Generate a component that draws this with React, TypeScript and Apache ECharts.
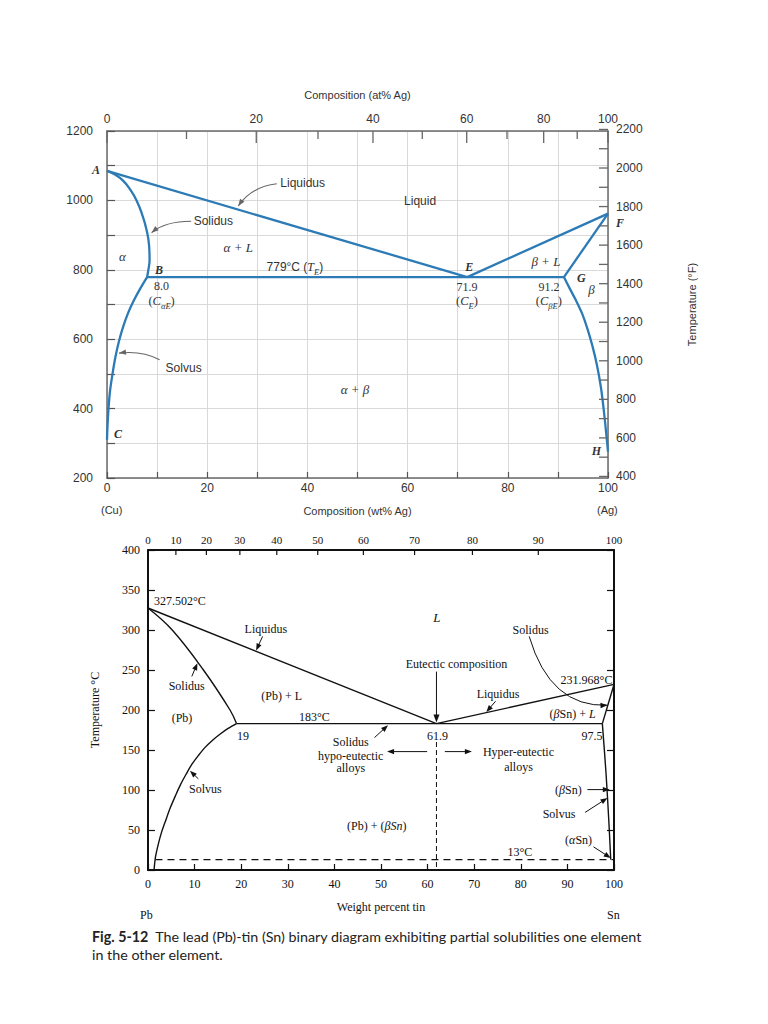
import React, { useEffect, useRef } from 'react';
import * as echarts from 'echarts';

// ================= Cu–Ag diagram (top): x = wt% Ag, y = °C =================
const cuAgLiquidusLeft = [[0, 1085], [71.9, 779]];
const cuAgLiquidusRight = [[71.9, 779], [100, 962]];
const cuAgSolidusLeft = [[0, 1085], [1.5, 1075], [3.2, 1057], [4.7, 1030], [5.9, 1000], [7.0, 960], [7.9, 915], [8.4, 870], [8.5, 830], [8.2, 795], [8.0, 779]];
const cuAgSolidusRight = [[91.2, 779], [100, 962]];
const cuAgEutectic = [[8.0, 779], [91.2, 779]];
const cuAgSolvusLeft = [[8.0, 779], [6.6, 745], [5.3, 710], [4.2, 675], [3.2, 635], [2.4, 595], [1.7, 550], [1.1, 500], [0.6, 450], [0.3, 400], [0.1, 350], [0, 310]];
const cuAgSolvusRight = [[91.2, 779], [92.4, 745], [93.6, 712], [94.8, 675], [95.9, 630], [96.9, 580], [97.8, 525], [98.6, 460], [99.2, 390], [99.7, 320], [100, 276]];

// secondary scales of the top diagram
const cuAgAtTicks = [0, 10, 20, 30, 40, 50, 60, 70, 80, 90, 100];
const cuAgAtLabels = ['0', '', '20', '', '40', '', '60', '', '80', '', '100'];
const fahrenheitTicks = [400, 500, 600, 700, 800, 900, 1000, 1100, 1200, 1300, 1400, 1500, 1600, 1700, 1800, 1900, 2000, 2100, 2200];
const fahrenheitLabels = ['400', '', '600', '', '800', '', '1000', '', '1200', '', '1400', '', '1600', '', '1800', '', '2000', '', '2200'];

// ================= Pb–Sn diagram (bottom): x = wt% Sn, y = °C =================
const pbSnLiquidusLeft = [[0, 327.502], [61.9, 183]];
const pbSnLiquidusRight = [[61.9, 183], [100, 231.968]];
const pbSnSolidusLeft = [[0, 327.502], [5.2, 300], [11.9, 250], [17.6, 200], [19, 183]];
const pbSnSolidusRight = [[97.5, 183], [100, 231.968]];
const pbSnEutectic = [[19, 183], [97.5, 183]];
const pbSnSolvusLeft = [[19, 183], [17.2, 177], [15.5, 170], [13.8, 162], [12.2, 153], [10.8, 143], [9.4, 132], [8.2, 120], [7.0, 107], [5.9, 93], [4.8, 78], [3.8, 62], [2.9, 47], [2.2, 32], [1.6, 16], [1.3, 0]];
const pbSnSolvusRight = [[97.5, 183], [98.3, 120], [98.9, 60], [99.3, 13]];
const pbSnAllotropic = [[1.6, 13], [100, 13]];
const pbSnEutecticComposition = [[61.9, 160], [61.9, 0]];

const pbSnAtTicks = [0, 10, 20, 30, 40, 50, 60, 70, 80, 90, 100];
const pbSnAtLabels = ['0', '10', '20', '30', '40', '50', '60', '70', '80', '90', '100'];

// atomic weights for at% -> wt% conversion
const M_CU = 63.546, M_AG = 107.868, M_PB = 207.2, M_SN = 118.71;
const atToWt = (at: number, mSolute: number, mSolvent: number) =>
  (100 * at * mSolute) / (at * mSolute + (100 - at) * mSolvent);
const fToC = (f: number) => (f - 32) / 1.8;

// ================= styles =================
const BLUE = '#2d7bb6';
const SANS = '"Liberation Sans", Arial, sans-serif';
const SERIF = '"Liberation Serif", "Times New Roman", serif';
const CAPTION = 'Lato, sans-serif';
const LETTER = `italic bold 12px ${SERIF}`;
const GREEK = `italic 13px ${SERIF}`;
const TOPTXT = `12px ${SANS}`;
const TOPNUM = `12px ${SERIF}`;
const BOT = `12px ${SERIF}`;

const subRich = (family: string, size: number) => ({
  n: { fontFamily: family, fontSize: size, lineHeight: 18, verticalAlign: 'middle' as const, fill: '#333' },
  i: { fontFamily: SERIF, fontStyle: 'italic' as const, fontSize: size, lineHeight: 18, verticalAlign: 'middle' as const, fill: '#333' },
  s: { fontFamily: SERIF, fontStyle: 'italic' as const, fontSize: 8.5, lineHeight: 18, verticalAlign: 'bottom' as const, fill: '#333' },
});

type TextAnn = { t: string; at: number[]; font?: string; align?: string; color?: string; rich?: any };
type ArrowAnn = { from: number[]; to: number[]; ctrl?: number[]; color?: string; width?: number; head?: number };

const cuAgTexts: TextAnn[] = [
  { t: 'A', at: [-2.2, 1089], font: LETTER },
  { t: 'B', at: [10.4, 800], font: LETTER },
  { t: 'C', at: [2.2, 327], font: LETTER },
  { t: 'E', at: [72.3, 808], font: LETTER },
  { t: 'F', at: [102.4, 935], font: LETTER },
  { t: 'G', at: [94.7, 777], font: LETTER },
  { t: 'H', at: [97.7, 278], font: LETTER },
  { t: 'α', at: [3.1, 839], font: GREEK },
  { t: 'α + L', at: [26.2, 863], font: GREEK },
  { t: 'β + L', at: [87.6, 824], font: GREEK },
  { t: 'β', at: [96.7, 743], font: GREEK },
  { t: 'α + β', at: [49.5, 454], font: GREEK },
  { t: 'Liquid', at: [62.5, 997], font: TOPTXT },
  { t: 'Liquidus', at: [34.6, 1050], font: TOPTXT, align: 'left' },
  { t: 'Solidus', at: [17.3, 940], font: TOPTXT, align: 'left' },
  { t: 'Solvus', at: [11.7, 516], font: TOPTXT, align: 'left' },
  { t: '{n|779°C (}{i|T}{s|E}{n|)}', at: [37.5, 808], rich: subRich(SANS, 12) },
  { t: '8.0', at: [10.9, 752], font: TOPNUM },
  { t: '{n|(}{i|C}{s|αE}{n|)}', at: [10.9, 709], rich: subRich(SERIF, 12.5) },
  { t: '71.9', at: [71.85, 750], font: TOPNUM },
  { t: '{n|(}{i|C}{s|E}{n|)}', at: [71.85, 709], rich: subRich(SERIF, 12.5) },
  { t: '91.2', at: [88.2, 750], font: TOPNUM },
  { t: '{n|(}{i|C}{s|βE}{n|)}', at: [88.2, 709], rich: subRich(SERIF, 12.5) },
];
const cuAgArrows: ArrowAnn[] = [
  { from: [33.9, 1048], ctrl: [28.9, 1040], to: [26.2, 984] },
  { from: [16.8, 940], ctrl: [11.6, 940], to: [8.9, 907] },
  { from: [10.5, 541], ctrl: [6.9, 568], to: [2.4, 560] },
];

const pbSnTexts: TextAnn[] = [
  { t: '327.502°C', at: [1.3, 336], align: 'left' },
  { t: 'L', at: [62, 316], font: `italic 13px ${SERIF}` },
  { t: 'Liquidus', at: [25.3, 301] },
  { t: 'Solidus', at: [82.1, 300] },
  { t: 'Eutectic composition', at: [66.2, 257] },
  { t: 'Solidus', at: [8.3, 230] },
  { t: '(Pb) + L', at: [28.7, 217] },
  { t: '(Pb)', at: [7.3, 190] },
  { t: '183°C', at: [35.7, 191] },
  { t: '19', at: [20.4, 168] },
  { t: '61.9', at: [62.1, 168] },
  { t: '97.5', at: [95.3, 168] },
  { t: 'Liquidus', at: [75.1, 220] },
  { t: '{n|(}{i|β}{n|Sn) + }{i|L}', at: [91.1, 195], rich: null },
  { t: '231.968°C', at: [94.1, 237] },
  { t: 'Solidus', at: [43.5, 160] },
  { t: 'hypo-eutectic', at: [43.5, 143] },
  { t: 'alloys', at: [43.5, 127] },
  { t: 'Hyper-eutectic', at: [79.5, 147] },
  { t: 'alloys', at: [79.5, 129] },
  { t: 'Solvus', at: [12.3, 101] },
  { t: '{n|(Pb) + (}{i|βSn}{n|)}', at: [49.1, 55], rich: null },
  { t: '{n|(}{i|β}{n|Sn)}', at: [90.2, 100.5], rich: null },
  { t: 'Solvus', at: [88.2, 70] },
  { t: '{n|(}{i|α}{n|Sn)}', at: [92.4, 37], rich: null },
  { t: '13°C', at: [79.8, 23] },
];
const pbSnArrows: ArrowAnn[] = [
  { from: [24.6, 292], to: [23.2, 274.5] },
  { from: [9.4, 242], to: [10.6, 258.5] },
  { from: [61.9, 248], to: [61.9, 184.5], head: 8 },
  { from: [74.6, 211], to: [72.6, 197.5] },
  { from: [81.8, 292], ctrl: [86.3, 203], to: [98.6, 206] },
  { from: [48.6, 165.5], to: [51.5, 181] },
  { from: [59.9, 148], to: [51.3, 148] },
  { from: [63.7, 148], to: [69.5, 148] },
  { from: [10.8, 114], to: [9.0, 124] },
  { from: [94.3, 100.5], to: [99.1, 100.5] },
  { from: [93.8, 72], to: [98.6, 90] },
  { from: [95.6, 29], to: [99.3, 15] },
];

const botRich = {
  n: { fontFamily: SERIF, fontSize: 12, fill: '#111' },
  i: { fontFamily: SERIF, fontStyle: 'italic' as const, fontSize: 12, fill: '#111' },
};

// ================= helpers =================
function arrowHead(x1: number, y1: number, x2: number, y2: number, size: number, color: string) {
  const a = Math.atan2(y2 - y1, x2 - x1);
  const w = size * 0.38;
  const bx = x2 - size * Math.cos(a);
  const by = y2 - size * Math.sin(a);
  const px = -Math.sin(a) * w;
  const py = Math.cos(a) * w;
  return {
    type: 'polygon',
    shape: { points: [[x2, y2], [bx + px, by + py], [bx - px, by - py]] },
    style: { fill: color, stroke: 'none' },
  };
}

function annotationSeries(xAxisIndex: number, yAxisIndex: number, texts: TextAnn[], arrows: ArrowAnn[], def: { font: string; color: string; arrowColor: string; arrowWidth: number; head: number; rich?: any }) {
  const items: any[] = [
    ...texts.map((t) => ({ k: 't', ...t })),
    ...arrows.map((a) => ({ k: 'a', ...a })),
  ];
  return {
    type: 'custom',
    xAxisIndex,
    yAxisIndex,
    silent: true,
    clip: false,
    z: 5,
    data: items.map((it) => (it.k === 't' ? it.at : it.to)),
    renderItem: (params: any, api: any) => {
      const it = items[params.dataIndex];
      if (it.k === 't') {
        const p = api.coord(it.at);
        const rich = it.rich === null ? def.rich : it.rich;
        const style: any = {
          text: it.t,
          fill: it.color || def.color,
          align: it.align || 'center',
          verticalAlign: 'middle',
        };
        if (rich) style.rich = rich;
        style.font = it.font || def.font;
        return { type: 'text', x: p[0], y: p[1], style };
      }
      const s = api.coord(it.from);
      const e = api.coord(it.to);
      const color = it.color || def.arrowColor;
      const lw = it.width || def.arrowWidth;
      const hs = it.head || def.head;
      const children: any[] = [];
      if (it.ctrl) {
        const c = api.coord(it.ctrl);
        children.push({
          type: 'bezierCurve',
          shape: { x1: s[0], y1: s[1], x2: e[0], y2: e[1], cpx1: c[0], cpy1: c[1] },
          style: { stroke: color, lineWidth: lw, fill: 'none' },
        });
        children.push(arrowHead(c[0], c[1], e[0], e[1], hs, color));
      } else {
        const a = Math.atan2(e[1] - s[1], e[0] - s[0]);
        children.push({
          type: 'line',
          shape: { x1: s[0], y1: s[1], x2: e[0] - Math.cos(a) * hs * 0.6, y2: e[1] - Math.sin(a) * hs * 0.6 },
          style: { stroke: color, lineWidth: lw },
        });
        children.push(arrowHead(s[0], s[1], e[0], e[1], hs, color));
      }
      return { type: 'group', children };
    },
  };
}

// ticks + labels of a secondary scale, drawn at converted positions
function scaleSeries(xAxisIndex: number, yAxisIndex: number, pts: number[][], labels: string[], side: 'top' | 'right', opt: { len: (i: number) => number; font: string; color: string; tickColor: string; gap: number; tickWidth: number }) {
  return {
    type: 'custom',
    xAxisIndex,
    yAxisIndex,
    silent: true,
    clip: false,
    z: 6,
    data: pts,
    renderItem: (params: any, api: any) => {
      const i = params.dataIndex;
      const p = api.coord(pts[i]);
      const L = opt.len(i);
      const children: any[] = [];
      if (side === 'top') {
        children.push({ type: 'line', shape: { x1: p[0], y1: p[1], x2: p[0], y2: p[1] + L }, style: { stroke: opt.tickColor, lineWidth: opt.tickWidth } });
        if (labels[i]) children.push({ type: 'text', x: p[0], y: p[1] - opt.gap, style: { text: labels[i], font: opt.font, fill: opt.color, align: 'center', verticalAlign: 'bottom' } });
      } else {
        children.push({ type: 'line', shape: { x1: p[0], y1: p[1], x2: p[0] - L, y2: p[1] }, style: { stroke: opt.tickColor, lineWidth: opt.tickWidth } });
        if (labels[i]) children.push({ type: 'text', x: p[0] + opt.gap, y: p[1], style: { text: labels[i], font: opt.font, fill: opt.color, align: 'left', verticalAlign: 'middle' } });
      }
      return { type: 'group', children };
    },
  };
}

const topLine = (data: number[][], smooth: number | boolean = false) => ({
  type: 'line',
  xAxisIndex: 0,
  yAxisIndex: 0,
  data,
  showSymbol: false,
  symbol: 'none',
  smooth,
  lineStyle: { color: BLUE, width: 2.3 },
  silent: true,
  z: 3,
});
const botLine = (data: number[][], smooth: number | boolean = false, dashed?: number[], width = 1.4) => ({
  type: 'line',
  xAxisIndex: 2,
  yAxisIndex: 2,
  data,
  showSymbol: false,
  symbol: 'none',
  smooth,
  lineStyle: { color: '#111', width, type: dashed || 'solid' },
  silent: true,
  z: 3,
});

export default function App() {
  const ref = useRef<HTMLDivElement>(null);
  useEffect(() => {
    if (!ref.current) return;
    const chart = echarts.init(ref.current, undefined, { renderer: 'svg' });
    const grayAxis = { show: true, onZero: false, lineStyle: { color: '#6a6a6a', width: 1.5 } };
    const blackAxis = { show: true, onZero: false, lineStyle: { color: '#111', width: 2 } };
    const topLabel = { color: '#333', fontFamily: SANS, fontSize: 12 };
    const botLabel = { color: '#111', fontFamily: SERIF, fontSize: 12 };

    const option: any = {
      animation: false,
      backgroundColor: '#ffffff',
      grid: [
        { left: 107, top: 131, width: 501, height: 347, containLabel: false },
        { left: 148, top: 550, width: 466, height: 320, containLabel: false },
      ],
      xAxis: [
        {
          gridIndex: 0, type: 'value', position: 'bottom', min: 0, max: 100, interval: 10,
          axisLine: grayAxis,
          axisTick: { show: true, inside: true, length: 6, lineStyle: { color: '#555', width: 1.2 } },
          axisLabel: { ...topLabel, margin: 4, formatter: (v: number) => (v % 20 === 0 ? String(v) : '') },
          splitLine: { show: true, lineStyle: { color: '#d9d9d9', width: 1 } },
          name: 'Composition (wt% Ag)', nameLocation: 'middle', nameGap: 27,
          nameTextStyle: { color: '#333', fontFamily: SANS, fontSize: 11 },
        },
        {
          gridIndex: 0, type: 'value', position: 'top', min: 0, max: 100,
          axisLine: grayAxis, axisTick: { show: false }, axisLabel: { show: false }, splitLine: { show: false },
          name: 'Composition (at% Ag)', nameLocation: 'middle', nameGap: 31,
          nameTextStyle: { color: '#333', fontFamily: SANS, fontSize: 11 },
        },
        {
          gridIndex: 1, type: 'value', position: 'bottom', min: 0, max: 100, interval: 10,
          axisLine: blackAxis,
          axisTick: { show: true, inside: true, length: 6, lineStyle: { color: '#111', width: 1.2 } },
          axisLabel: { ...botLabel, margin: 8 },
          splitLine: { show: false },
          name: 'Weight percent tin', nameLocation: 'middle', nameGap: 31,
          nameTextStyle: { color: '#111', fontFamily: SERIF, fontSize: 12 },
        },
        {
          gridIndex: 1, type: 'value', position: 'top', min: 0, max: 100,
          axisLine: blackAxis, axisTick: { show: false }, axisLabel: { show: false }, splitLine: { show: false },
        },
      ],
      yAxis: [
        {
          gridIndex: 0, type: 'value', position: 'left', min: 200, max: 1200, interval: 100,
          axisLine: grayAxis,
          axisTick: { show: true, inside: true, length: 8, lineStyle: { color: '#555', width: 1.2 } },
          axisLabel: { ...topLabel, margin: 14, formatter: (v: number) => (v % 200 === 0 ? String(v) : '') },
          splitLine: { show: true, lineStyle: { color: '#d9d9d9', width: 1 } },
        },
        {
          gridIndex: 0, type: 'value', position: 'right', min: 200, max: 1200,
          axisLine: grayAxis, axisTick: { show: false }, axisLabel: { show: false }, splitLine: { show: false },
          name: 'Temperature (°F)', nameLocation: 'middle', nameGap: 78, nameRotate: 90,
          nameTextStyle: { color: '#333', fontFamily: SANS, fontSize: 11 },
        },
        {
          gridIndex: 1, type: 'value', position: 'left', min: 0, max: 400, interval: 50,
          axisLine: blackAxis,
          axisTick: { show: true, inside: true, length: 7, lineStyle: { color: '#111', width: 1.2 } },
          axisLabel: { ...botLabel, margin: 8 },
          splitLine: { show: false },
          name: 'Temperature °C', nameLocation: 'middle', nameGap: 47, nameRotate: 90,
          nameTextStyle: { color: '#111', fontFamily: SERIF, fontSize: 12 },
        },
        {
          gridIndex: 1, type: 'value', position: 'right', min: 0, max: 400, interval: 50,
          axisLine: blackAxis,
          axisTick: { show: true, inside: true, length: 7, lineStyle: { color: '#111', width: 1.2 } },
          axisLabel: { show: false },
          splitLine: { show: false },
        },
      ],
      series: [
        topLine(cuAgLiquidusLeft),
        topLine(cuAgLiquidusRight),
        topLine(cuAgSolidusLeft, 0.5),
        topLine(cuAgSolidusRight),
        topLine(cuAgEutectic),
        topLine(cuAgSolvusLeft, 0.3),
        topLine(cuAgSolvusRight, 0.3),
        botLine(pbSnLiquidusLeft),
        botLine(pbSnLiquidusRight),
        botLine(pbSnSolidusLeft, 0.4),
        botLine(pbSnSolidusRight),
        botLine(pbSnEutectic),
        botLine(pbSnSolvusLeft, 0.3),
        botLine(pbSnSolvusRight, 0.3),
        botLine(pbSnAllotropic, false, [7, 5], 1.4),
        botLine(pbSnEutecticComposition, false, [5, 3], 1),
        scaleSeries(1, 0, cuAgAtTicks.map((a) => [atToWt(a, M_AG, M_CU), 1200]), cuAgAtLabels, 'top', {
          len: (i) => (i % 2 === 0 ? 12 : 8), font: `12px ${SANS}`, color: '#333', tickColor: '#666', gap: 6, tickWidth: 1.3,
        }),
        scaleSeries(0, 1, fahrenheitTicks.map((f) => [100, fToC(f)]), fahrenheitLabels, 'right', {
          len: () => 9, font: `12px ${SANS}`, color: '#333', tickColor: '#666', gap: 8, tickWidth: 1.3,
        }),
        scaleSeries(3, 2, pbSnAtTicks.map((a) => [atToWt(a, M_SN, M_PB), 400]), pbSnAtLabels, 'top', {
          len: () => 5, font: `11px ${SERIF}`, color: '#111', tickColor: '#111', gap: 5, tickWidth: 1.2,
        }),
        annotationSeries(0, 0, cuAgTexts, cuAgArrows, { font: TOPTXT, color: '#333', arrowColor: '#666', arrowWidth: 1.1, head: 7 }),
        annotationSeries(2, 2, pbSnTexts, pbSnArrows, { font: BOT, color: '#111', arrowColor: '#111', arrowWidth: 1, head: 7, rich: botRich }),
      ],
      graphic: [
        { type: 'text', left: 101, top: 504, style: { text: '(Cu)', font: `11px ${SANS}`, fill: '#333' } },
        { type: 'text', left: 597, top: 504, style: { text: '(Ag)', font: `11px ${SANS}`, fill: '#333' } },
        { type: 'text', left: 140, top: 909, style: { text: 'Pb', font: `12px ${SERIF}`, fill: '#111' } },
        { type: 'text', left: 607, top: 909, style: { text: 'Sn', font: `12px ${SERIF}`, fill: '#111' } },
        {
          type: 'text', left: 92, top: 929,
          style: {
            text: '{b|Fig. 5-12}{n|  The lead (Pb)-tin (Sn) binary diagram exhibiting partial solubilities one element}',
            rich: {
              b: { fontFamily: CAPTION, fontWeight: 'bold', fontSize: 14.3, fill: '#222' },
              n: { fontFamily: CAPTION, fontSize: 14.3, fill: '#222' },
            },
          },
        },
        { type: 'text', left: 92, top: 947, style: { text: 'in the other element.', font: `14.3px ${CAPTION}`, fill: '#222' } },
      ],
    };
    chart.setOption(option);
    return () => chart.dispose();
  }, []);
  return <div ref={ref} style={{ position: 'absolute', left: 0, top: 0, width: 768, height: 1024, background: '#fff' }} />;
}
